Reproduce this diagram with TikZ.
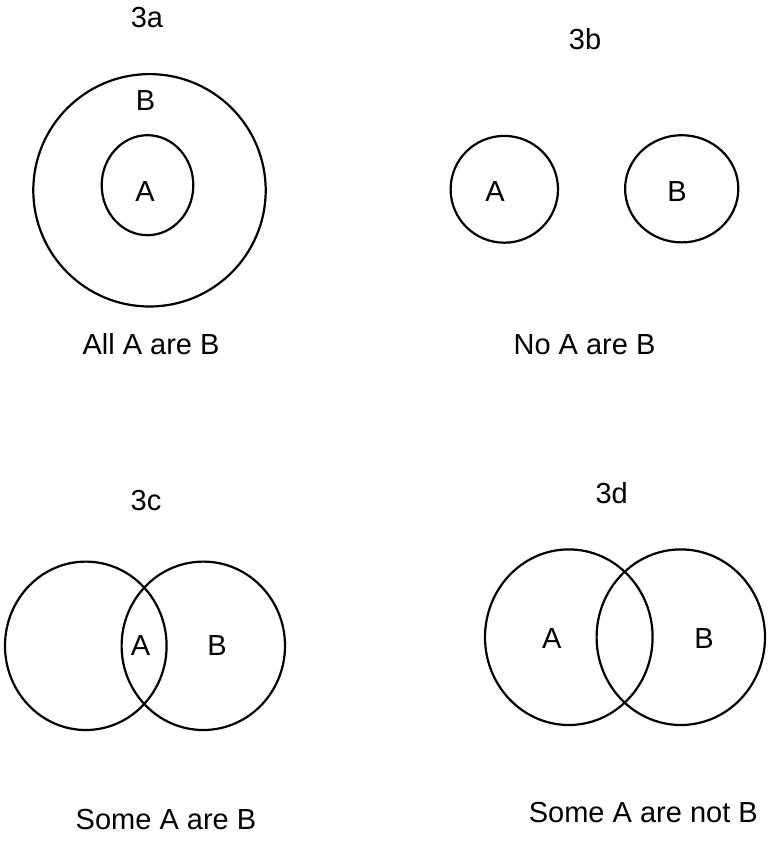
\documentclass[tikz,border=0pt]{standalone}
\usepackage{fontspec}
\setmainfont{Liberation Sans}

\begin{document}
\begin{tikzpicture}[x=1pt, y=-1pt,
    set/.style={draw=black, line width=2.2pt},
    txt/.style={anchor=base, inner sep=0pt, font=\fontsize{29}{34}\selectfont}]
    % \draw[help lines] (0,0) grid (768,842);
    \useasboundingbox (0,0) rectangle (768,842);

    % 3a
    \path[set] (149.5,190.3) ellipse [x radius=116.2, y radius=116.2];
    \path[set] (147.5,185.2) ellipse [x radius=45.8, y radius=50];
    \node[txt] (title_a) at (147,27.3) {3a};
    \node[txt] (a_outer) at (145.5,110.7) {B};
    \node[txt] (a_inner) at (145,201.7) {A};
    \node[txt] (caption_a) at (151,354) {All A are B};

    % 3b
    \path[set] (504.3,189.3) ellipse [x radius=53.7, y radius=53.4];
    \path[set] (681.7,188.8) ellipse [x radius=56.6, y radius=53.6];
    \node[txt] (title_b) at (585,50) {3b};
    \node[txt] (b_left) at (495,201.7) {A};
    \node[txt] (b_right) at (677,201.7) {B};
    \node[txt] (caption_b) at (584.5,354.3) {No A are B};

    % 3c
    \path[set] (85.8,645.8) ellipse [x radius=80.8, y radius=84.2];
    \path[set] (203.3,645.8) ellipse [x radius=81.7, y radius=84.2];
    \node[txt] (title_c) at (146,510.7) {3c};
    \node[txt] (c_mid) at (140.5,655) {A};
    \node[txt] (c_right) at (217,655) {B};
    \node[txt] (caption_c) at (166,829.3) {Some A are B};

    % 3d
    \path[set] (568.8,637.2) ellipse [x radius=83.8, y radius=87.8];
    \path[set] (680.8,637.2) ellipse [x radius=84.2, y radius=87.8];
    \node[txt] (title_d) at (611.7,503.3) {3d};
    \node[txt] (d_left) at (551.7,648.3) {A};
    \node[txt] (d_right) at (704,648.3) {B};
    \node[txt] (caption_d) at (643.3,822.7) {Some A are not B};
\end{tikzpicture}
\end{document}
